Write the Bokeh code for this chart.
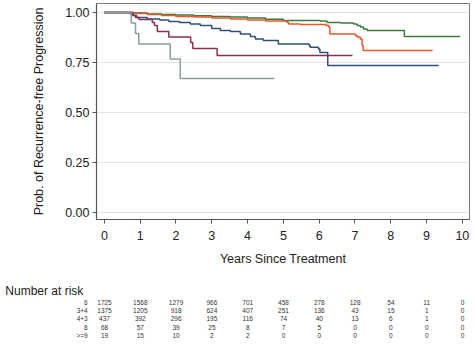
from bokeh.plotting import figure
from bokeh.models import Range1d, FixedTicker, NumeralTickFormatter
from bokeh.layouts import column
from bokeh.embed import file_html
from bokeh.resources import INLINE
from bokeh.core.properties import value

FONT = "Liberation Sans"

# Kaplan-Meier step data (years, survival)
t_6 = [0, 0.78, 1.2, 1.6, 2.0, 2.5, 3.0, 3.52, 4.0, 4.5, 5.0, 6.03, 6.22, 6.6, 6.96, 7.06, 7.15, 7.24, 7.34, 8.38, 9.94]
s_6 = [1, 0.997, 0.993, 0.99, 0.987, 0.984, 0.98, 0.977, 0.972, 0.966, 0.96, 0.957, 0.95, 0.947, 0.943, 0.935, 0.927, 0.918, 0.91, 0.88, 0.88]

t_34 = [0, 0.78, 1.2, 1.6, 2.0, 2.5, 3.0, 3.52, 4.0, 4.5, 5.1, 5.15, 5.47, 6.2, 6.27, 6.3, 7.01, 7.06, 7.15, 7.2, 7.23, 9.17]
s_34 = [1, 0.995, 0.99, 0.985, 0.98, 0.977, 0.973, 0.968, 0.962, 0.957, 0.95, 0.942, 0.94, 0.935, 0.927, 0.893, 0.885, 0.877, 0.868, 0.835, 0.81, 0.81]

t_43 = [0, 0.73, 0.8, 0.9, 1.2, 1.55, 1.8, 2.1, 2.4, 2.68, 3.0, 3.24, 3.52, 3.8, 4.08, 4.22, 4.44, 4.86, 5.72, 5.75, 5.98, 6.02, 6.24, 9.34]
s_43 = [1, 0.992, 0.985, 0.975, 0.968, 0.962, 0.955, 0.95, 0.942, 0.935, 0.92, 0.91, 0.905, 0.893, 0.88, 0.868, 0.86, 0.843, 0.835, 0.826, 0.818, 0.80, 0.735, 0.735]

t_8 = [0, 0.8, 0.87, 0.97, 1.34, 1.40, 1.48, 1.80, 2.41, 2.47, 3.15, 6.93]
s_8 = [1, 0.985, 0.975, 0.965, 0.95, 0.935, 0.905, 0.877, 0.85, 0.82, 0.785, 0.785]

t_9 = [0, 0.75, 0.87, 0.96, 1.84, 2.12, 4.75]
s_9 = [1, 0.947, 0.895, 0.842, 0.768, 0.67, 0.67]

# Number at risk table
risk_times = [0, 1, 2, 3, 4, 5, 6, 7, 8, 9, 10]
group_labels = ["6", "3+4", "4+3", "8", ">=9"]
risk_6 = [1725, 1568, 1279, 966, 701, 458, 278, 128, 54, 11, 0]
risk_34 = [1375, 1205, 918, 624, 407, 251, 136, 43, 15, 1, 0]
risk_43 = [437, 392, 296, 195, 116, 74, 40, 13, 6, 1, 0]
risk_8 = [68, 57, 39, 25, 8, 7, 5, 0, 0, 0, 0]
risk_9 = [19, 15, 10, 2, 2, 0, 0, 0, 0, 0, 0]

colors = ["#3d7a3f", "#e4582b", "#2f4f7f", "#8a2f4c", "#8e9c9c"]

p = figure(width=474, height=272, output_backend="svg", toolbar_location=None,
           x_range=Range1d(-0.22, 10.2), y_range=Range1d(-0.035, 1.045),
           min_border_left=96, min_border_right=5, min_border_top=3, min_border_bottom=53)
p.frame_align = False
p.background_fill_color = "white"
p.border_fill_color = "white"
p.outline_line_color = "#7a7a7a"
p.outline_line_width = 1

p.xgrid.grid_line_color = None
p.ygrid.grid_line_color = "#e3e3e3"
p.ygrid.grid_line_width = 1

p.xaxis.ticker = FixedTicker(ticks=list(range(0, 11)))
p.yaxis.ticker = FixedTicker(ticks=[0, 0.25, 0.5, 0.75, 1.0])
p.yaxis.formatter = NumeralTickFormatter(format="0.00")

for ax in (p.xaxis[0], p.yaxis[0]):
    ax.axis_line_color = "#555555"
    ax.axis_line_width = 1.2
    ax.major_tick_line_color = "#555555"
    ax.major_tick_in = 0
    ax.major_tick_out = 4
    ax.minor_tick_line_color = None
    ax.major_label_text_font = FONT
    ax.major_label_text_font_size = "12.5px"
    ax.major_label_text_color = "#222222"
    ax.axis_label_text_font = FONT
    ax.axis_label_text_font_size = "12.5px"
    ax.axis_label_text_font_style = "normal"
    ax.axis_label_text_color = "#222222"

p.xaxis.axis_label = "Years Since Treatment"
p.yaxis.axis_label = "Prob. of Recurrence-free Progression"
p.xaxis.major_label_standoff = 7
p.xaxis.axis_label_standoff = 9
p.yaxis.major_label_standoff = 3
p.yaxis.axis_label_standoff = 16

series = [(t_6, s_6), (t_34, s_34), (t_43, s_43), (t_8, s_8), (t_9, s_9)]
for (t, s), c in zip(series, colors):
    p.step(t, s, mode="after", line_color=c, line_width=1.5)

# table figure: x in years, same pixel scale as the main plot
tb = figure(width=474, height=74, output_backend="svg", toolbar_location=None,
            x_range=Range1d(-2.905, 10.335), y_range=Range1d(346, 272),
            min_border_left=0, min_border_right=0, min_border_top=0, min_border_bottom=0)
tb.frame_align = False
tb.axis.visible = False
tb.grid.grid_line_color = None
tb.outline_line_color = None
tb.background_fill_color = "white"
tb.border_fill_color = "white"

row_y = [302, 310.2, 318.4, 326.6, 334.8]
rows = [risk_6, risk_34, risk_43, risk_8, risk_9]
xs, ys, txt = [], [], []
for ry, r in zip(row_y, rows):
    for t, v in zip(risk_times, r):
        xs.append(t)
        ys.append(ry)
        txt.append(str(v))
tb.text(x=xs, y=ys, text=txt, text_font=value(FONT), text_font_size="6.5px",
        text_align="center", text_baseline="middle", text_color="#333333")
tb.text(x=[-0.47] * 5, y=row_y, text=group_labels, text_font=value(FONT), text_font_size="6.5px",
        text_align="right", text_baseline="middle", text_color="#333333")
tb.text(x=[-2.77], y=[290.5], text=["Number at risk"], text_font=value(FONT), text_font_size="12px",
        text_align="left", text_baseline="middle", text_color="#222222")

layout = column(p, tb, spacing=0)
open("out.html", "w").write(file_html(layout, INLINE))
